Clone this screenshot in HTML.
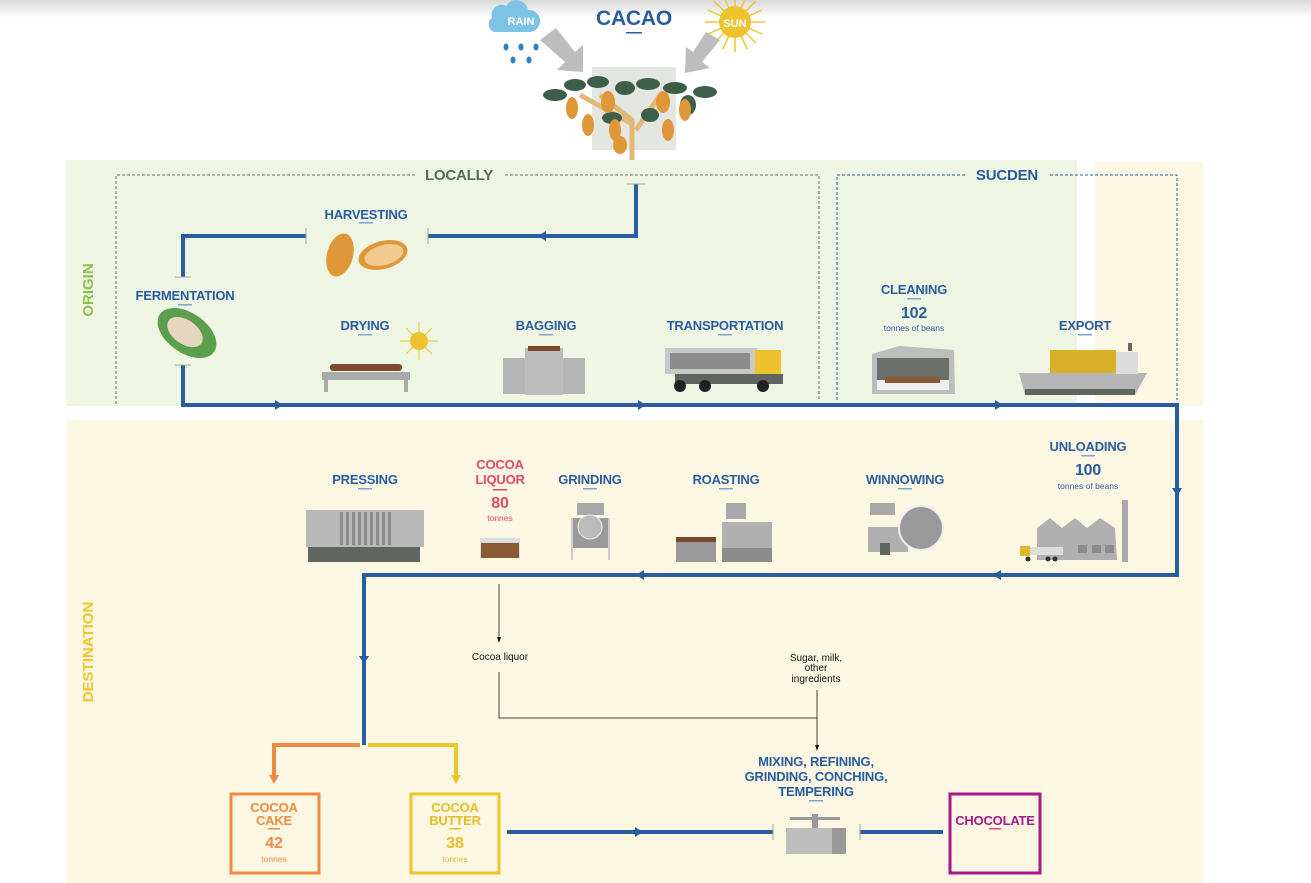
<!DOCTYPE html>
<html><head><meta charset="utf-8"><style>
html,body{margin:0;padding:0;background:#fff;}
svg{display:block;}
text{font-family:"Liberation Sans Narrow","Liberation Sans",sans-serif;font-weight:bold;}
.t{fill:#2a5d9f;font-size:13px;text-anchor:middle;letter-spacing:-0.2px;}
.s{fill:#2a5d9f;font-size:8.5px;text-anchor:middle;font-weight:normal;}
.k{fill:#111;font-size:10px;text-anchor:middle;font-weight:normal;}
</style></head><body>
<svg width="1311" height="883" viewBox="0 0 1311 883" xmlns="http://www.w3.org/2000/svg">
<defs><linearGradient id="tg" x1="0" y1="0" x2="0" y2="1"><stop offset="0" stop-color="#d8d8d8"/><stop offset="1" stop-color="#fff"/></linearGradient></defs>
<rect x="0" y="0" width="1311" height="18" fill="url(#tg)"/>
<rect x="66" y="160" width="1011" height="246" fill="#eef5e3"/>
<rect x="1095" y="162" width="108" height="244" fill="#fcf7e2"/>
<rect x="66" y="420" width="1137" height="463" fill="#fcf7e2"/>
<path d="M415 175 H116 V405 M505 175 H819 V400" fill="none" stroke="#5a7a5a" stroke-dasharray="3,2"/>
<path d="M965 175 H837 V400 M1050 175 H1177 V400" fill="none" stroke="#2a5d9f" stroke-dasharray="3,2"/>
<text x="459" y="180" class="t" style="fill:#566b5a;font-size:15px">LOCALLY</text>
<text x="1007" y="180" class="t" style="font-size:15px">SUCDEN</text>
<text transform="translate(93,290) rotate(-90)" style="fill:#8dc04a;font-size:15px;text-anchor:middle;font-family:'Liberation Sans',sans-serif;font-weight:bold">ORIGIN</text>
<text transform="translate(93,652) rotate(-90)" style="fill:#f0c52a;font-size:15px;text-anchor:middle;font-family:'Liberation Sans',sans-serif;font-weight:bold">DESTINATION</text>

<text x="634" y="25" class="t" style="font-size:21px;font-family:'Liberation Sans',sans-serif">CACAO</text>
<rect x="626" y="32" width="16" height="1.5" fill="#2a5d9f"/>
<path d="M492 18 a10 10 0 0 1 14 -12 a12 12 0 0 1 22 4 a8 8 0 0 1 2 22 h-36 a8 8 0 0 1 -2 -14z" fill="#7cc3e6"/>
<text x="521" y="25" style="fill:#fff;font-size:11px;text-anchor:middle">RAIN</text>
<g fill="#2f7fc1"><ellipse cx="506" cy="47" rx="2.5" ry="3.5"/><ellipse cx="521" cy="47" rx="2.5" ry="3.5"/><ellipse cx="536" cy="47" rx="2.5" ry="3.5"/><ellipse cx="513" cy="60" rx="2.5" ry="3.5"/><ellipse cx="529" cy="60" rx="2.5" ry="3.5"/></g>
<polygon points="540,40 556,28 575,52 583,45 583,72 557,70 565,62" fill="#bdbdbd"/>
<g stroke="#f0c52a" stroke-width="1.5"><line x1="705" y1="22" x2="765" y2="22"/><line x1="735" y1="-8" x2="735" y2="52"/><line x1="714" y1="1" x2="756" y2="43"/><line x1="714" y1="43" x2="756" y2="1"/><line x1="708" y1="10" x2="762" y2="34"/><line x1="708" y1="34" x2="762" y2="10"/><line x1="723" y1="-5" x2="747" y2="49"/><line x1="723" y1="49" x2="747" y2="-5"/></g>
<circle cx="735" cy="22" r="16" fill="#edc32e"/>
<text x="735" y="27" style="fill:#fff;font-size:11px;text-anchor:middle">SUN</text>
<polygon points="720,40 706,32 693,52 686,47 685,73 710,68 702,62" fill="#bdbdbd"/>
<rect x="592" y="67" width="84" height="83" fill="#e4e6e1"/>
<path d="M632 160 L632 120 L600 95 M636 130 L660 95 M634 125 L580 95" stroke="#e2b878" stroke-width="5" fill="none"/>
<g fill="#3d5e48"><ellipse cx="555" cy="95" rx="12" ry="6"/><ellipse cx="575" cy="85" rx="11" ry="6"/><ellipse cx="598" cy="82" rx="11" ry="6"/><ellipse cx="625" cy="88" rx="10" ry="7"/><ellipse cx="648" cy="84" rx="12" ry="6"/><ellipse cx="675" cy="88" rx="12" ry="6"/><ellipse cx="705" cy="92" rx="12" ry="6"/><ellipse cx="612" cy="118" rx="10" ry="6"/><ellipse cx="650" cy="115" rx="9" ry="7"/><ellipse cx="688" cy="105" rx="8" ry="10"/></g>
<g fill="#e0973a"><ellipse cx="572" cy="108" rx="6" ry="11"/><ellipse cx="588" cy="125" rx="6" ry="11"/><ellipse cx="608" cy="102" rx="7" ry="11"/><ellipse cx="615" cy="130" rx="6" ry="11"/><ellipse cx="663" cy="102" rx="7" ry="11"/><ellipse cx="668" cy="130" rx="6" ry="11"/><ellipse cx="685" cy="110" rx="6" ry="11"/><ellipse cx="620" cy="145" rx="7" ry="9"/></g>

<g fill="none" stroke="#2a5d9f" stroke-width="4">
<path d="M636 184 V236 H428"/><path d="M306 236 H183 V277"/>
<path d="M183 365 V405 H1177 V575 H364 V745"/>
<path d="M507 832 H773"/><path d="M860 832 H943"/>
</g>
<g stroke="#9aa" stroke-width="1"><line x1="627" y1="184" x2="645" y2="184"/><line x1="428" y1="228" x2="428" y2="244"/><line x1="306" y1="228" x2="306" y2="244"/><line x1="175" y1="277" x2="191" y2="277"/><line x1="175" y1="365" x2="191" y2="365"/><line x1="773" y1="824" x2="773" y2="840"/><line x1="860" y1="824" x2="860" y2="840"/></g>
<g fill="#2a5d9f"><polygon points="538,236 546,231 546,241"/><polygon points="283,405 275,400 275,410"/><polygon points="646,405 638,400 638,410"/><polygon points="1003,405 995,400 995,410"/><polygon points="1177,496 1172,488 1182,488"/><polygon points="993,575 1001,570 1001,580"/><polygon points="636,575 644,570 644,580"/><polygon points="364,664 359,656 369,656"/><polygon points="643,832 635,827 635,837"/></g>
<path d="M360 745 H274 V780" fill="none" stroke="#ef8a44" stroke-width="4"/><polygon points="274,784 269,775 279,775" fill="#ef8a44"/>
<path d="M368 745 H456 V780" fill="none" stroke="#efc52c" stroke-width="4"/><polygon points="456,784 451,775 461,775" fill="#efc52c"/>

<g stroke="#444" stroke-width="1" fill="none"><path d="M499 584 V640"/><path d="M499 672 V718 H817 M817 690 V748"/></g>
<polygon points="499,643 497,637 501,637" fill="#111"/><polygon points="817,751 815,745 819,745" fill="#111"/>
<text x="500" y="660" class="k">Cocoa liquor</text>
<text x="816" y="661" class="k">Sugar, milk,</text><text x="816" y="671" class="k">other</text><text x="816" y="682" class="k">ingredients</text>

<text x="366" y="219" class="t">HARVESTING</text>
<text x="185" y="300" class="t">FERMENTATION</text>
<text x="365" y="330" class="t">DRYING</text>
<text x="546" y="330" class="t">BAGGING</text>
<text x="725" y="330" class="t">TRANSPORTATION</text>
<text x="914" y="294" class="t">CLEANING</text>
<text x="914" y="318" class="t" style="font-size:16px">102</text>
<text x="914" y="331" class="s">tonnes of beans</text>
<text x="1085" y="330" class="t">EXPORT</text>
<g fill="#7fa4d0"><rect x="359" y="222" width="14" height="1.5"/><rect x="178" y="304" width="14" height="1.5"/><rect x="358" y="334" width="14" height="1.5"/><rect x="539" y="334" width="14" height="1.5"/><rect x="718" y="334" width="14" height="1.5"/><rect x="907" y="298" width="14" height="1.5"/><rect x="1078" y="334" width="14" height="1.5"/></g>
<ellipse cx="340" cy="255" rx="13" ry="22" fill="#e0973a" transform="rotate(15 340 255)"/>
<ellipse cx="383" cy="255" rx="25" ry="14" fill="#e0973a" transform="rotate(-15 383 255)"/>
<ellipse cx="384" cy="255" rx="20" ry="10" fill="#f2c98f" transform="rotate(-15 384 255)"/>
<ellipse cx="187" cy="333" rx="33" ry="20" fill="#5a9e4e" transform="rotate(35 187 333)"/>
<ellipse cx="185" cy="332" rx="20" ry="12" fill="#e6d6be" transform="rotate(35 185 332)"/>
<rect x="322" y="372" width="88" height="8" fill="#aaa"/><rect x="324" y="372" width="4" height="20" fill="#aaa"/><rect x="404" y="372" width="4" height="20" fill="#aaa"/>
<rect x="330" y="364" width="72" height="7" rx="3" fill="#7a4a2a"/>
<g stroke="#f0c52a" stroke-width="1"><line x1="400" y1="341" x2="438" y2="341"/><line x1="419" y1="322" x2="419" y2="360"/><line x1="406" y1="328" x2="432" y2="354"/><line x1="406" y1="354" x2="432" y2="328"/></g><circle cx="419" cy="341" r="9" fill="#edc32e"/>
<rect x="503" y="358" width="22" height="36" fill="#b5b5b5"/><rect x="563" y="358" width="22" height="36" fill="#b5b5b5"/><rect x="525" y="348" width="38" height="47" fill="#bdbdbd"/><rect x="528" y="346" width="32" height="5" fill="#7a4a2a"/>
<rect x="665" y="348" width="92" height="26" fill="#c8c8c8"/><rect x="670" y="353" width="80" height="16" fill="#8c8c8c"/><rect x="755" y="350" width="26" height="26" fill="#eec22c"/><rect x="675" y="374" width="108" height="10" fill="#5f6660"/>
<g fill="#222"><circle cx="680" cy="386" r="6"/><circle cx="705" cy="386" r="6"/><circle cx="763" cy="386" r="6"/></g>
<polygon points="872,354 899,346 954,350 955,394 872,394" fill="#bdbdbd"/><rect x="877" y="358" width="72" height="32" fill="#6a6e68"/><rect x="877" y="380" width="72" height="10" fill="#eee"/><rect x="885" y="377" width="55" height="6" fill="#8a5a34"/>
<polygon points="1019,373 1147,373 1135,395 1025,395" fill="#b5b5b5"/><rect x="1025" y="389" width="110" height="6" fill="#5f6660"/>
<rect x="1050" y="350" width="66" height="23" fill="#d8b02a"/><rect x="1116" y="352" width="22" height="22" fill="#ddd"/><rect x="1128" y="343" width="4" height="8" fill="#666"/>

<text x="365" y="484" class="t">PRESSING</text>
<text x="500" y="469" class="t" style="fill:#e04a66">COCOA</text>
<text x="500" y="484" class="t" style="fill:#e04a66">LIQUOR</text>
<text x="500" y="508" class="t" style="fill:#e04a66;font-size:16px">80</text>
<text x="500" y="521" class="s" style="fill:#e04a66">tonnes</text>
<text x="590" y="484" class="t">GRINDING</text>
<text x="726" y="484" class="t">ROASTING</text>
<text x="905" y="484" class="t">WINNOWING</text>
<text x="1088" y="451" class="t">UNLOADING</text>
<text x="1088" y="475" class="t" style="font-size:16px">100</text>
<text x="1088" y="489" class="s">tonnes of beans</text>
<g fill="#7fa4d0"><rect x="358" y="488" width="14" height="1.5"/><rect x="583" y="488" width="14" height="1.5"/><rect x="719" y="488" width="14" height="1.5"/><rect x="898" y="488" width="14" height="1.5"/><rect x="1081" y="455" width="14" height="1.5"/></g>
<rect x="493" y="489" width="14" height="1.5" fill="#e04a66"/>
<rect x="306" y="510" width="118" height="37" fill="#b8b8b8"/><g fill="#8c8c8c"><rect x="340" y="512" width="3" height="33"/><rect x="346" y="512" width="3" height="33"/><rect x="352" y="512" width="3" height="33"/><rect x="358" y="512" width="3" height="33"/><rect x="364" y="512" width="3" height="33"/><rect x="370" y="512" width="3" height="33"/><rect x="376" y="512" width="3" height="33"/><rect x="382" y="512" width="3" height="33"/><rect x="388" y="512" width="3" height="33"/></g><rect x="308" y="547" width="112" height="15" fill="#5f6660"/>
<rect x="480" y="538" width="40" height="20" fill="#ddd"/><rect x="481" y="543" width="38" height="15" fill="#8a5a34"/>
<rect x="577" y="503" width="27" height="12" fill="#a8a8a8"/><rect x="573" y="518" width="35" height="30" fill="#9a9a9a"/><circle cx="590" cy="527" r="12" fill="#bbb" stroke="#eee"/><rect x="571" y="518" width="2" height="42" fill="#ccc"/><rect x="608" y="518" width="2" height="42" fill="#ccc"/>
<rect x="726" y="503" width="20" height="16" fill="#a8a8a8"/><rect x="722" y="522" width="50" height="40" fill="#b0b0b0"/><rect x="722" y="548" width="50" height="14" fill="#8c8c8c"/><rect x="676" y="540" width="40" height="22" fill="#9a9a9a"/><rect x="676" y="537" width="40" height="5" fill="#7a4a2a"/>
<rect x="870" y="503" width="25" height="12" fill="#a8a8a8"/><rect x="868" y="527" width="40" height="25" fill="#b0b0b0"/><rect x="880" y="543" width="10" height="12" fill="#5f6660"/><circle cx="921" cy="528" r="22" fill="#9a9a9a" stroke="#eee" stroke-width="2"/>
<polygon points="1037,528 1050,518 1062,528 1075,518 1087,528 1100,518 1115,528 1117,560 1037,560" fill="#b0b0b0"/><rect x="1122" y="500" width="6" height="62" fill="#aaa"/><g fill="#8c8c8c"><rect x="1078" y="545" width="9" height="8"/><rect x="1092" y="545" width="9" height="8"/><rect x="1105" y="545" width="9" height="8"/></g>
<rect x="1020" y="546" width="10" height="10" fill="#e0b82a"/><rect x="1030" y="547" width="33" height="8" fill="#ddd"/><g fill="#333"><circle cx="1028" cy="559" r="2.5"/><circle cx="1048" cy="559" r="2.5"/><circle cx="1055" cy="559" r="2.5"/></g>

<text x="816" y="766" class="t">MIXING, REFINING,</text>
<text x="816" y="781" class="t">GRINDING, CONCHING,</text>
<text x="816" y="796" class="t">TEMPERING</text>
<rect x="809" y="800" width="14" height="1.5" fill="#7fa4d0"/>
<rect x="786" y="828" width="60" height="26" fill="#bdbdbd"/><rect x="832" y="828" width="14" height="26" fill="#999"/><rect x="790" y="817" width="50" height="3" fill="#999"/><rect x="812" y="814" width="6" height="14" fill="#999"/>
<rect x="231" y="794" width="88" height="79" fill="none" stroke="#ef8a44" stroke-width="3"/>
<text x="274" y="812" class="t" style="fill:#ef8a44">COCOA</text><text x="274" y="825" class="t" style="fill:#ef8a44">CAKE</text><rect x="268" y="828" width="12" height="1.5" fill="#ef8a44"/>
<text x="274" y="848" class="t" style="fill:#ef8a44;font-size:16px">42</text><text x="274" y="862" class="s" style="fill:#ef8a44">tonnes</text>
<rect x="411" y="794" width="88" height="79" fill="none" stroke="#efc52c" stroke-width="3"/>
<text x="455" y="812" class="t" style="fill:#e6bc2a">COCOA</text><text x="455" y="825" class="t" style="fill:#e6bc2a">BUTTER</text><rect x="449" y="828" width="12" height="1.5" fill="#e6bc2a"/>
<text x="455" y="848" class="t" style="fill:#e6bc2a;font-size:16px">38</text><text x="455" y="862" class="s" style="fill:#e6bc2a">tonnes</text>
<rect x="950" y="794" width="90" height="79" fill="none" stroke="#a8188a" stroke-width="3"/>
<text x="995" y="825" class="t" style="fill:#a8188a">CHOCOLATE</text><rect x="989" y="828" width="12" height="1.5" fill="#e04a66"/>
</svg>
</body></html>
